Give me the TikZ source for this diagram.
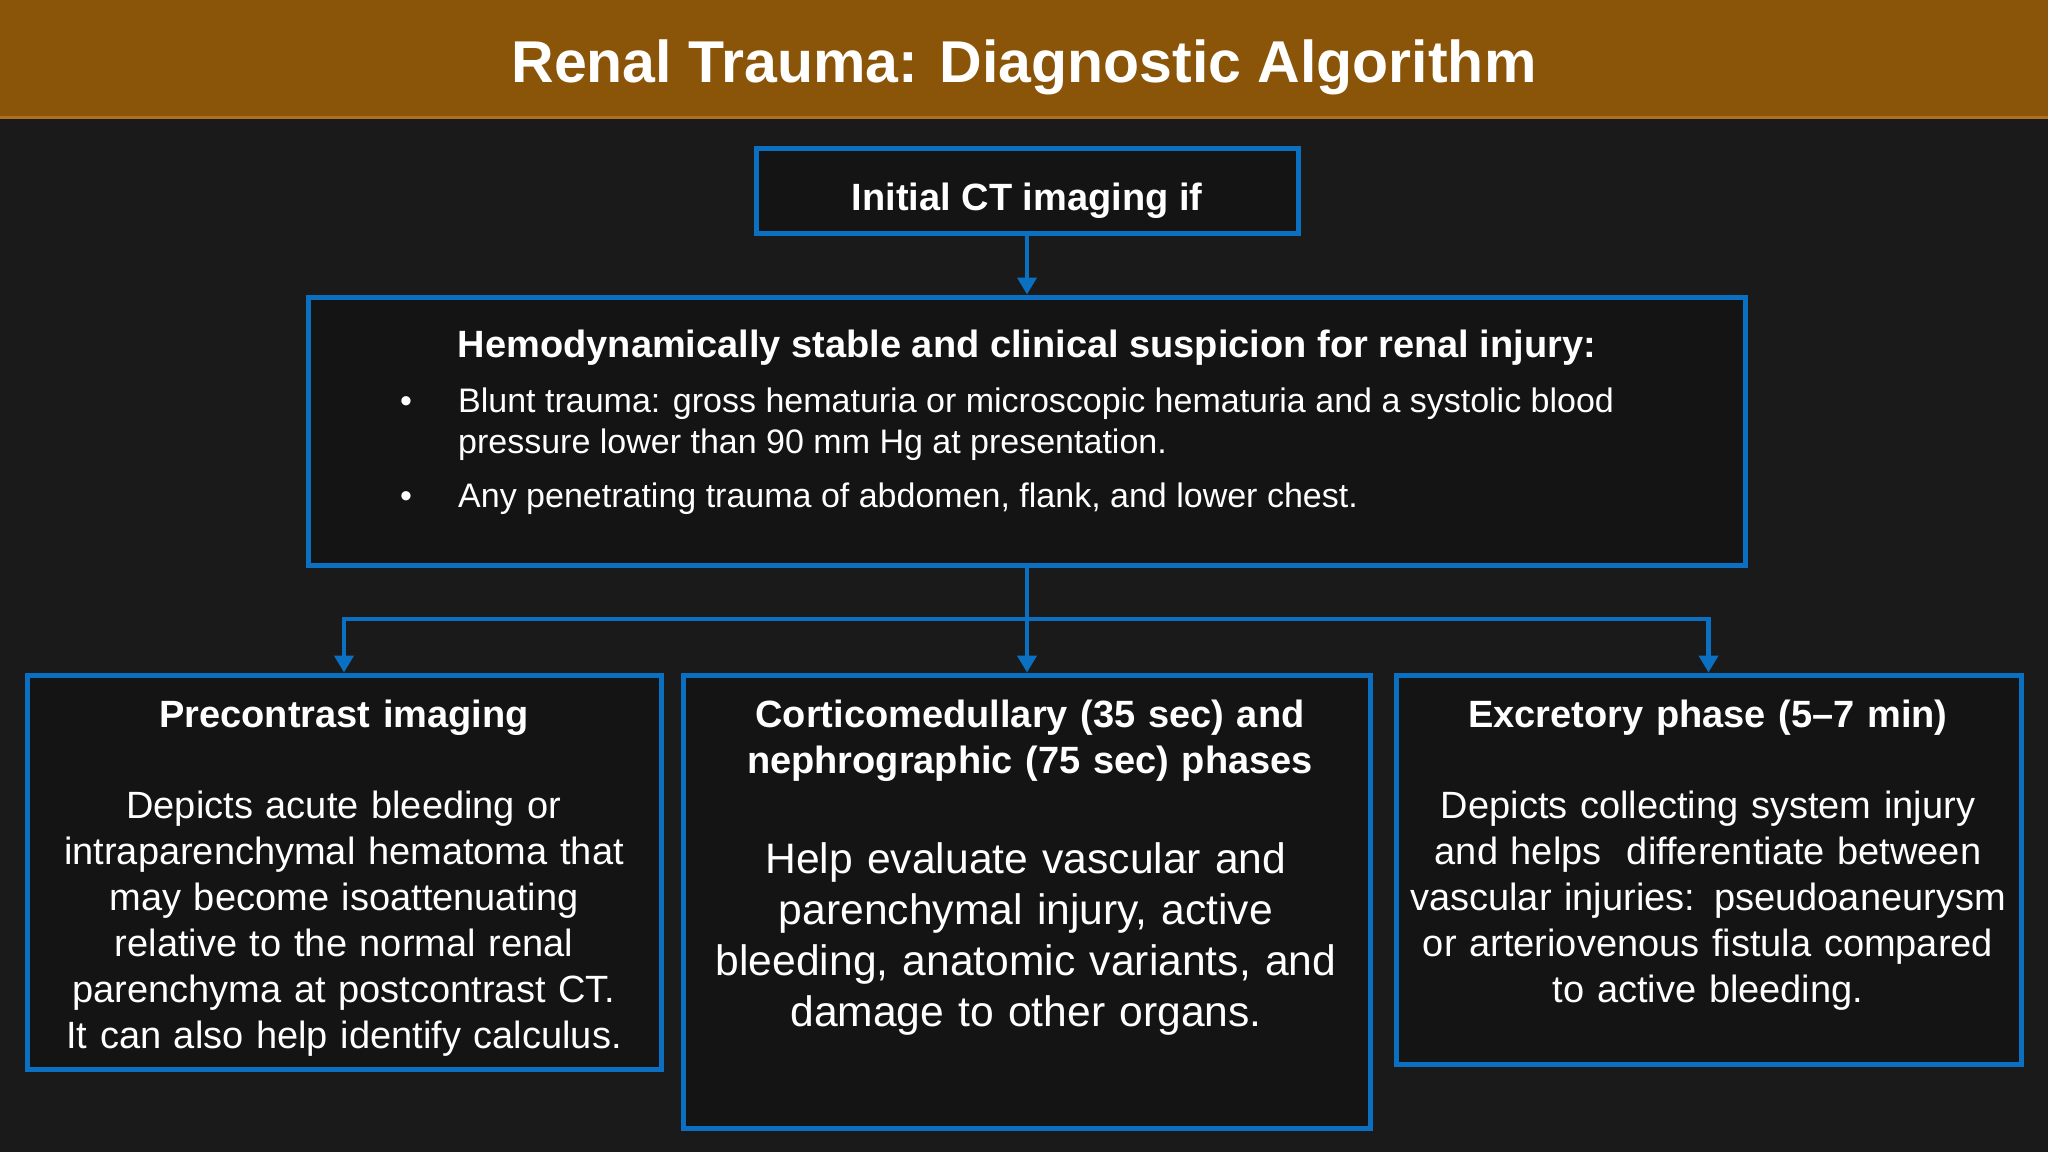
\documentclass[tikz,border=0pt]{standalone}
\usepackage{xcolor}
\usepackage{fontspec}
\setmainfont{Liberation Sans}
\usetikzlibrary{arrows.meta}

\definecolor{bgdark}{HTML}{1A1A1A}
\definecolor{boxfill}{HTML}{141414}
\definecolor{boxblue}{HTML}{0B6FC2}
\definecolor{barbrown}{HTML}{8A5508}
\definecolor{baredge}{HTML}{B07020}

\newcommand{\titlesize}{\fontsize{59}{70}\selectfont\bfseries}
\newcommand{\headsize}{\fontsize{38}{46}\selectfont\bfseries}
\newcommand{\bodysize}{\fontsize{38}{46}\selectfont}
\newcommand{\midsize}{\fontsize{42.6}{51.3}\selectfont}
\newcommand{\listsize}{\fontsize{34}{41}\selectfont}

\begin{document}
\begin{tikzpicture}[x=1pt,y=-1pt,
    box/.style={draw=boxblue, line width=5pt, fill=boxfill, inner sep=0pt},
    wire/.style={draw=boxblue, line width=4.5pt},
    link/.style={wire, -{Triangle[width=19pt,length=17pt]}},
    txt/.style={draw=none, text=white, align=center, inner sep=0pt}]

             \fill[bgdark] (0,0) rectangle (2048,1152);
             \useasboundingbox (0,0) rectangle (2048,1152);

             % title bar
             \fill[barbrown] (0,0) rectangle (2048,117);
             \draw[baredge, line width=3pt] (0,117) -- (2048,117);
             \node[txt, anchor=base, font=\titlesize] (title) at (1024,82) {Renal Trauma: Diagnostic Algorithm};

             % boxes
             \node[box, minimum width=542pt, minimum height=85pt, text=white, font=\headsize,
                   text height=39pt, text depth=0pt] (ct) at (1027,190.5) {Initial CT imaging if};
             \node[box, minimum width=1437pt, minimum height=268pt] (crit) at (1027,431) {};
             \node[box, minimum width=634pt, minimum height=394pt] (pre) at (344,872) {};
             \node[box, minimum width=687pt, minimum height=453pt] (cm) at (1027,901.5) {};
             \node[box, minimum width=625pt, minimum height=389pt] (exc) at (1708.5,869.5) {};

             % connectors
             \coordinate (bus) at (1027,619);
             \draw[link] (ct.south) -- (crit.north);
             \draw[wire] (crit.south) -- (bus);
             \draw[link] (bus) -| (pre.north);
             \draw[link] (bus) -- (cm.north);
             \draw[link] (bus) -| (exc.north);

             % criteria
             \node[txt, anchor=base, font=\headsize] (crithead) at (1027,357)
                  {Hemodynamically stable and clinical suspicion for renal injury:};
             \node[txt, anchor=base west, font=\listsize, align=left] (critlist) at (400,412) {%
                  \begin{tabular}[t]{@{}p{58pt}@{}l@{}}
                  \textbullet & Blunt trauma: gross hematuria or microscopic hematuria and a systolic blood\\
                              & pressure lower than 90 mm Hg at presentation.\\[13pt]
                  \textbullet & Any penetrating trauma of abdomen, flank, and lower chest.
                  \end{tabular}};

             % phases
             \node[txt, anchor=base, font=\headsize, text width=600pt] (prehead) at (344,727) {Precontrast imaging};
             \node[txt, anchor=base, font=\bodysize, text width=600pt] (pretext) at (344,818)
                  {Depicts acute bleeding or\\ intraparenchymal hematoma that\\ may become isoattenuating\\
                   relative to the normal renal\\ parenchyma at postcontrast CT.\\ It can also help identify calculus.};

             \node[txt, anchor=base, font=\headsize, text width=660pt] (cmhead) at (1030,727)
                  {Corticomedullary (35 sec) and\\ nephrographic (75 sec) phases};
             \node[txt, anchor=base, font=\midsize, text width=660pt] (cmtext) at (1026,873)
                  {Help evaluate vascular and\\ parenchymal injury, active\\ bleeding, anatomic variants, and\\ damage to other organs.};

             \node[txt, anchor=base, font=\headsize, text width=600pt] (exchead) at (1708,727) {Excretory phase (5--7 min)};
             \node[txt, anchor=base, font=\bodysize, text width=600pt] (exctext) at (1708,818)
                  {Depicts collecting system injury\\ and helps\ \ differentiate between\\ vascular injuries: pseudoaneurysm\\
                   or arteriovenous fistula compared\\ to active bleeding.};
             \end{tikzpicture}
\end{document}
